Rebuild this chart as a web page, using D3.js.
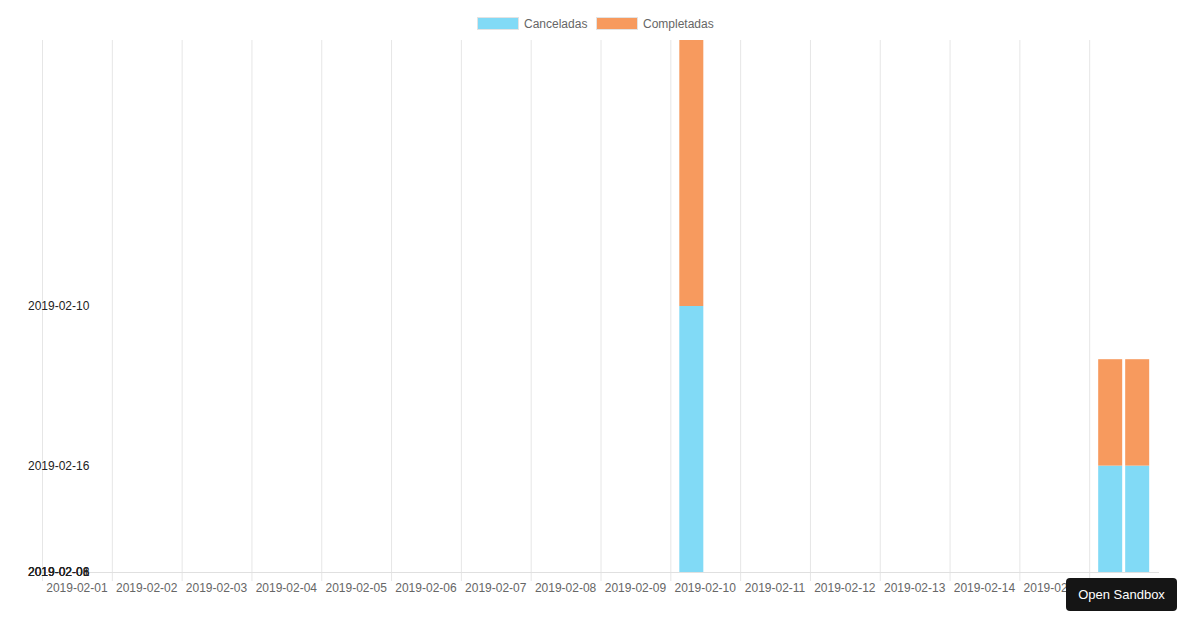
<!DOCTYPE html>
<html>
<head>
<meta charset="utf-8">
<script src="https://cdn.jsdelivr.net/npm/d3@7"></script>
<style>
  body { margin: 0; background: #fff; font-family: "Liberation Sans", Arial, sans-serif; }
  .tip { position: absolute; left: 1066px; top: 578px; width: 111px; height: 33px; background: #151515;
         color: #fff; border-radius: 4px; font-size: 13px; line-height: 33px; text-align: center; }
</style>
</head>
<body>
<div id="chart"></div>
<div class="tip">Open Sandbox</div>
<script>
// categories (x axis)
var days = ["2019-02-01","2019-02-02","2019-02-03","2019-02-04","2019-02-05","2019-02-06","2019-02-07",
  "2019-02-08","2019-02-09","2019-02-10","2019-02-11","2019-02-12","2019-02-13","2019-02-14","2019-02-15","2019-02-16"];
// bars: day, sub-slot, canceladas, completadas
var barDays = ["2019-02-10","2019-02-16","2019-02-16"];
var barSlot = [0, 0, 1];
var canceladas = [5, 2, 2];
var completadas = [5, 2, 2];
// y tick labels
var yTickValues = [0, 0, 0, 2, 5];
var yTickLabels = ["2019-02-01","2019-02-08","2019-02-06","2019-02-16","2019-02-10"];

var width = 1200, height = 630;
var plotLeft = 42, plotRight = 1159, plotTop = 40, plotBottom = 572;
var colors = { Canceladas: "#81daf6", Completadas: "#f79a5e" };

var svg = d3.select("#chart").append("svg").attr("width", width).attr("height", height);

var x = d3.scaleBand().domain(days).range([plotLeft, plotRight]);
var y = d3.scaleLinear().domain([0, 10]).range([plotBottom, plotTop]);

// vertical grid lines
svg.append("g").selectAll("line").data(days).enter().append("line")
  .attr("x1", function(d) { return x(d) + 0.5; }).attr("x2", function(d) { return x(d) + 0.5; })
  .attr("y1", plotTop).attr("y2", plotBottom + 9)
  .attr("stroke", "#e6e6e6");

// x axis line
svg.append("line").attr("x1", 30).attr("x2", plotRight).attr("y1", plotBottom + 0.5).attr("y2", plotBottom + 0.5)
  .attr("stroke", "#e0e0e0");

// x labels
svg.append("g").selectAll("text").data(days).enter().append("text")
  .attr("x", function(d) { return x(d) + x.bandwidth() / 2; })
  .attr("y", plotBottom + 20).attr("text-anchor", "middle")
  .attr("font-size", 12).attr("fill", "#666").text(function(d) { return d; });

// y labels
svg.append("g").selectAll("text").data(yTickValues).enter().append("text")
  .attr("x", 28).attr("y", function(d) { return y(d) + 4; })
  .attr("font-size", 12).attr("fill", "#222")
  .text(function(d, i) { return yTickLabels[i]; });

// stacked bars
var barW = 24, pad = 9, gap = 3;
var bars = svg.append("g");
barDays.forEach(function(d, i) {
  var bx = x(d) + pad + barSlot[i] * (barW + gap);
  bars.append("rect").attr("x", bx).attr("width", barW)
    .attr("y", y(canceladas[i])).attr("height", y(0) - y(canceladas[i]))
    .attr("fill", colors.Canceladas);
  bars.append("rect").attr("x", bx).attr("width", barW)
    .attr("y", y(canceladas[i] + completadas[i])).attr("height", y(canceladas[i]) - y(canceladas[i] + completadas[i]))
    .attr("fill", colors.Completadas);
});

// legend
var legend = [["Canceladas", 477], ["Completadas", 596]];
legend.forEach(function(l) {
  svg.append("rect").attr("x", l[1] + 0.5).attr("y", 17.5).attr("width", 41).attr("height", 12)
    .attr("fill", colors[l[0]]).attr("stroke", "#e3e3e3");
  svg.append("text").attr("x", l[1] + 47).attr("y", 28).attr("font-size", 12).attr("fill", "#666").text(l[0]);
});
</script>
</body>
</html>
